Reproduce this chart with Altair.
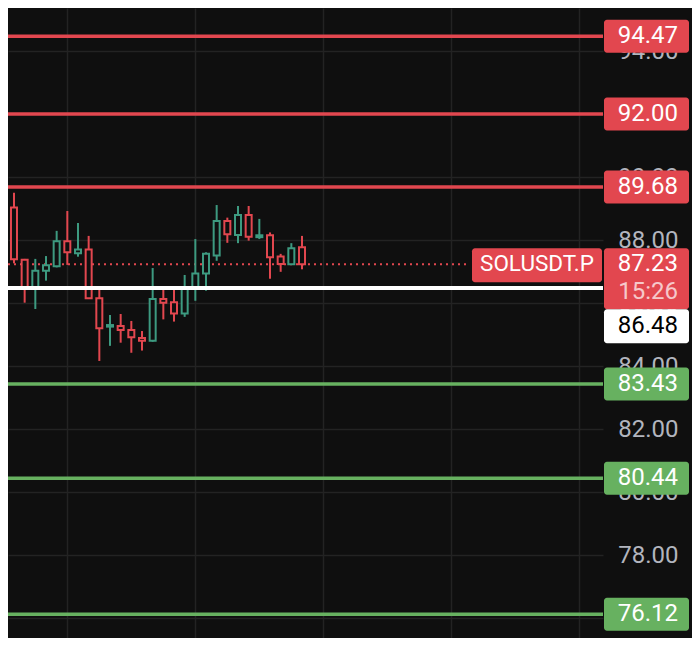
import altair as alt
import pandas as pd

# ---- candle data ----
idx    = list(range(29))
opens  = [87.90, 89.03, 87.37, 86.47, 87.02, 87.17, 87.96, 87.58, 87.70, 86.15, 85.25, 85.27, 85.14, 84.89, 84.80,
          86.13, 86.02, 85.67, 86.47, 86.94, 87.51, 88.60, 88.16, 88.79, 88.09, 88.15, 87.48, 87.23, 87.77]
highs  = [89.10, 89.50, 87.40, 87.40, 87.49, 88.29, 88.92, 88.54, 88.13, 86.54, 85.62, 85.65, 85.43, 85.11, 87.11,
          86.54, 86.52, 86.89, 88.03, 87.61, 89.11, 88.71, 89.08, 89.08, 88.67, 88.24, 87.56, 87.90, 88.13]
lows   = [87.85, 87.26, 86.01, 85.81, 86.71, 87.13, 87.21, 87.47, 86.15, 84.16, 84.64, 84.74, 84.42, 84.49, 84.77,
          85.48, 85.41, 85.56, 86.07, 86.39, 87.34, 87.91, 87.90, 87.98, 88.03, 86.77, 86.99, 87.23, 87.07]
closes = [89.05, 87.39, 86.47, 87.02, 87.20, 87.96, 87.61, 87.70, 86.15, 85.20, 85.30, 85.14, 84.91, 84.80, 86.13,
          86.01, 85.67, 86.47, 86.94, 87.56, 88.60, 88.18, 88.79, 88.10, 88.15, 87.45, 87.24, 87.74, 87.23]

# ---- horizontal levels ----
res_levels = [94.47, 92.00, 89.68]
sup_levels = [83.43, 80.44, 76.12]
white_level = 86.48
last_price = 87.23
symbol = "SOLUSDT.P"
countdown = "15:26"

y_ticks = [76, 78, 80, 82, 84, 86, 88, 90, 92, 94]
x_grid = [6, 18, 30, 42, 54]

# ---- styles ----
BG = "#0f0f0f"
GRID = "#232323"
RED = "#e2474f"
TEAL = "#3d9a80"
GREEN = "#67b160"
AXIS_TXT = "#b2b5be"
FONT = "Roboto"
FS = 24

PLOT_W, PLOT_H = 595, 630
PXU = 31.5  # pixels per price unit
Y0 = 88 - 398 / PXU
Y1 = 88 + 232 / PXU
X0 = 1 + (8 - 9) / 10.85
X1 = 1 + (603 - 9) / 10.85

candles = pd.DataFrame({"i": idx, "open": opens, "high": highs, "low": lows, "close": closes})
candles["dir"] = ["up" if c >= o else "down" for o, c in zip(opens, closes)]

levels = pd.DataFrame({
    "price": res_levels + sup_levels,
    "kind": ["res"] * len(res_levels) + ["sup"] * len(sup_levels),
})
levels["label"] = [f"{p:.2f}" for p in levels["price"]]
half = 16.5 / PXU
levels["lo"] = levels["price"] - half
levels["hi"] = levels["price"] + half

yscale = alt.Scale(domain=[Y0, Y1], nice=False, zero=False)
xscale = alt.Scale(domain=[X0, X1], nice=False, zero=False)
yaxis = alt.Axis(orient="right", values=y_ticks, format=".2f", title=None, grid=True, gridColor=GRID,
                 gridWidth=1.5, domain=False, ticks=False, tickSize=0, labelPadding=75, labelAlign="right",
                 labelBaseline="middle", labelColor=AXIS_TXT, labelFont=FONT, labelFontSize=FS,
                 labelOverlap=False, labelFlush=False)
xaxis = alt.Axis(values=x_grid, labels=False, ticks=False, domain=False, grid=True, gridColor=GRID,
                 gridWidth=1.5, title=None)

col = alt.Color("dir:N", scale=alt.Scale(domain=["up", "down"], range=[TEAL, RED]), legend=None)

axis_layer = alt.Chart(candles).mark_point(opacity=0).encode(
    x=alt.X("i:Q", scale=xscale, axis=xaxis),
    y=alt.Y("close:Q", scale=yscale, axis=yaxis),
)

wicks = alt.Chart(candles).mark_rule(strokeWidth=2, clip=True).encode(
    x=alt.X("i:Q", scale=xscale, axis=xaxis),
    y=alt.Y("low:Q", scale=yscale, axis=yaxis),
    y2="high:Q",
    stroke=col,
)
bodies = alt.Chart(candles).mark_bar(width=6, fill=BG, strokeWidth=2, clip=True).encode(
    x=alt.X("i:Q", scale=xscale, axis=xaxis),
    y=alt.Y("open:Q", scale=yscale, axis=yaxis),
    y2="close:Q",
    stroke=col,
)

lvl_color = alt.Color("kind:N", scale=alt.Scale(domain=["res", "sup"], range=[RED, GREEN]), legend=None)
lines = alt.Chart(levels).mark_rule(strokeWidth=3.5).encode(
    y=alt.Y("price:Q", scale=yscale, axis=yaxis),
    color=lvl_color,
)

white_df = pd.DataFrame({"price": [white_level]})
white_line = alt.Chart(white_df).mark_rule(strokeWidth=4, color="#ffffff").encode(
    y=alt.Y("price:Q", scale=yscale, axis=yaxis),
)

last_df = pd.DataFrame({"price": [last_price]})
dotted = alt.Chart(last_df).mark_rule(strokeWidth=2, strokeDash=[2, 4], color=RED).encode(
    x=alt.value(0), x2=alt.value(462),
    y=alt.Y("price:Q", scale=yscale, axis=yaxis),
)

boxes = alt.Chart(levels).mark_rect(cornerRadius=3).encode(
    x=alt.value(596), x2=alt.value(681),
    y=alt.Y("lo:Q", scale=yscale, axis=yaxis), y2="hi:Q",
    color=lvl_color,
)
box_txt = alt.Chart(levels).mark_text(align="right", baseline="middle", font=FONT, fontSize=FS,
                                      color="#ffffff").encode(
    x=alt.value(670),
    y=alt.Y("price:Q", scale=yscale, axis=yaxis),
    text="label:N",
)

# current price block
cur = pd.DataFrame({
    "top": [last_price + 16 / PXU],
    "bot": [last_price - 45 / PXU],
    "wbot": [last_price - 79 / PXU],
    "sbot": [last_price - 18 / PXU],
    "price": [last_price],
    "cd_y": [last_price - 28 / PXU],
    "w_y": [last_price - 62 / PXU],
    "plabel": [f"{last_price:.2f}"],
    "cd": [countdown],
    "sym": [symbol],
    "wlabel": [f"{white_level:.2f}"],
})
cur_box = alt.Chart(cur).mark_rect(cornerRadius=3, color=RED).encode(
    x=alt.value(596), x2=alt.value(681),
    y=alt.Y("top:Q", scale=yscale, axis=yaxis), y2="bot:Q",
)
sym_box = alt.Chart(cur).mark_rect(cornerRadius=3, color=RED).encode(
    x=alt.value(464), x2=alt.value(594),
    y=alt.Y("top:Q", scale=yscale, axis=yaxis), y2="sbot:Q",
)
w_box = alt.Chart(cur).mark_rect(cornerRadius=3, color="#ffffff").encode(
    x=alt.value(596), x2=alt.value(681),
    y=alt.Y("bot:Q", scale=yscale, axis=yaxis), y2="wbot:Q",
)
cur_txt = alt.Chart(cur).mark_text(align="right", baseline="middle", font=FONT, fontSize=FS,
                                   color="#ffffff").encode(
    x=alt.value(670), y=alt.Y("price:Q", scale=yscale, axis=yaxis), text="plabel:N")
cd_txt = alt.Chart(cur).mark_text(align="right", baseline="middle", font=FONT, fontSize=FS,
                                  color="#ffffff", opacity=0.7).encode(
    x=alt.value(670), y=alt.Y("cd_y:Q", scale=yscale, axis=yaxis), text="cd:N")
sym_txt = alt.Chart(cur).mark_text(align="center", baseline="middle", font=FONT, fontSize=22.5,
                                   color="#ffffff").encode(
    x=alt.value(529), y=alt.Y("price:Q", scale=yscale, axis=yaxis), text="sym:N")
w_txt = alt.Chart(cur).mark_text(align="right", baseline="middle", font=FONT, fontSize=FS,
                                 color="#000000").encode(
    x=alt.value(670), y=alt.Y("w_y:Q", scale=yscale, axis=yaxis), text="wlabel:N")

chart = alt.layer(
    axis_layer, dotted, wicks, bodies, lines, white_line,
    boxes, box_txt, cur_box, sym_box, w_box, cur_txt, cd_txt, sym_txt, w_txt,
).properties(
    width=PLOT_W, height=PLOT_H,
    padding={"left": 0, "top": 0, "right": 89, "bottom": 0},
    autosize=alt.AutoSizeParams(type="none"),
    background=BG,
).configure_view(stroke=None)

chart.save("out.html", embed_options={"renderer": "svg", "actions": False})
